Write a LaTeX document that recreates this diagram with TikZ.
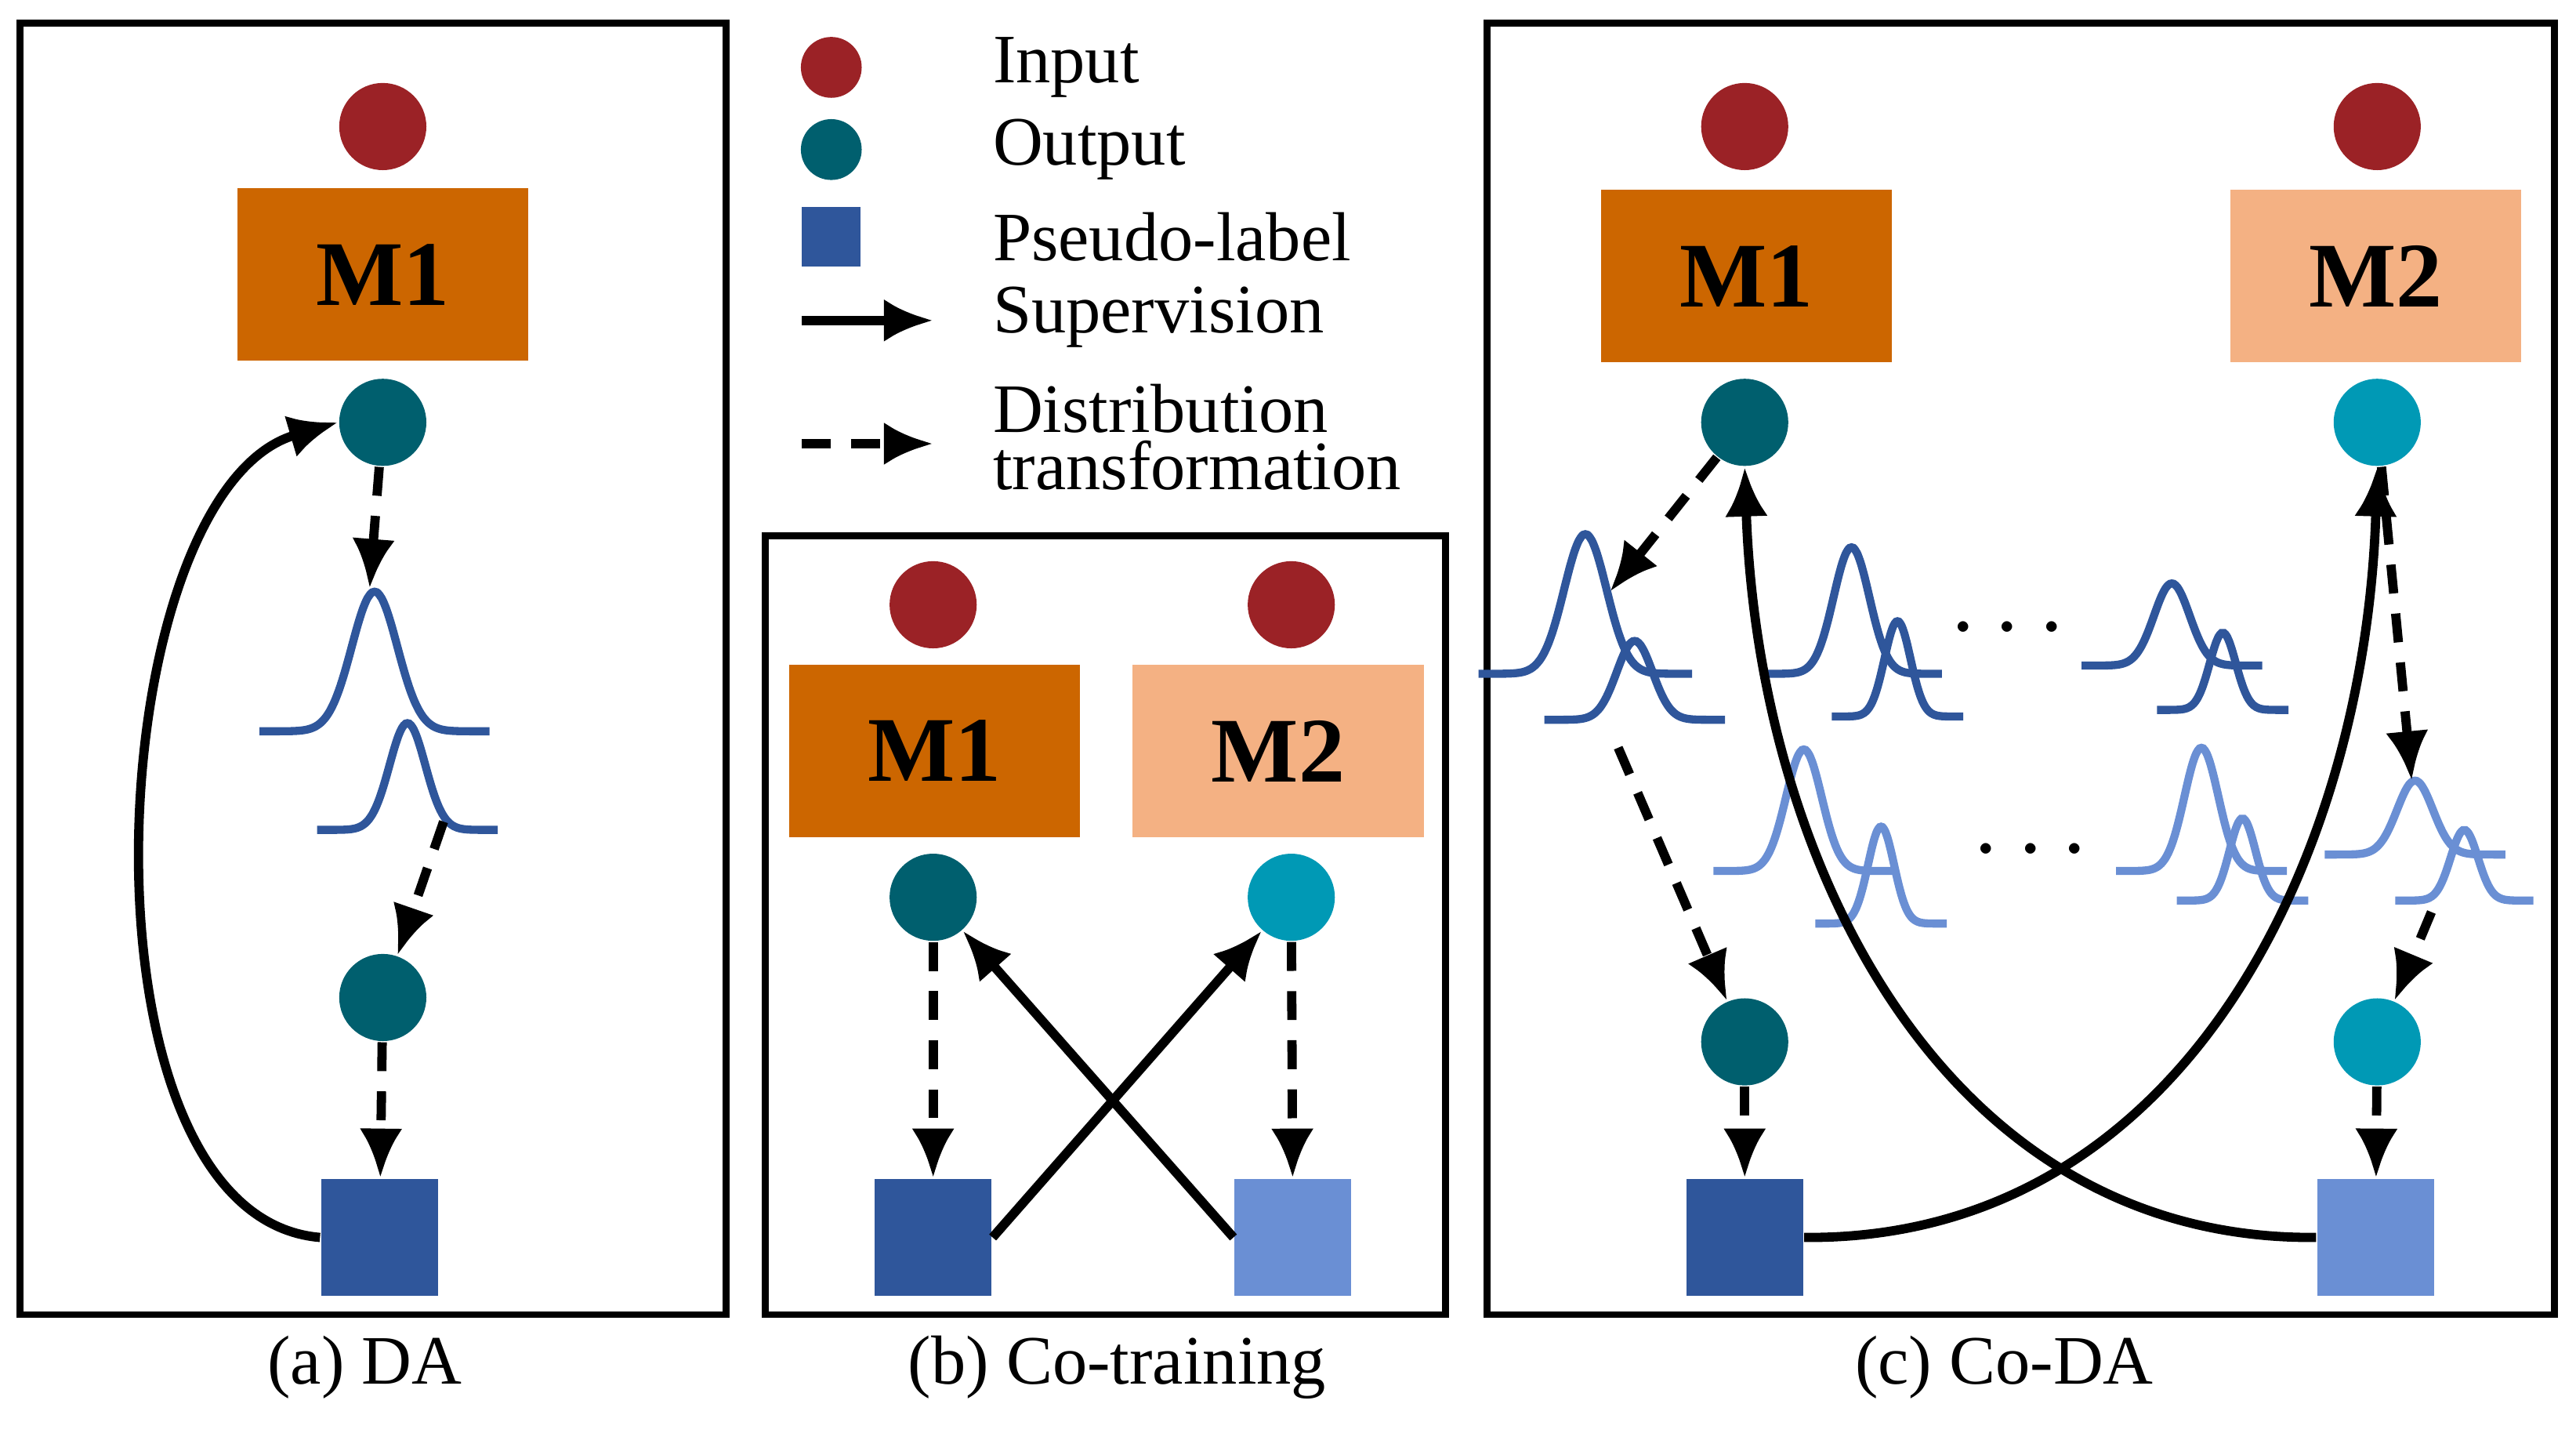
\documentclass[tikz,border=0pt]{standalone}
\usepackage{fontspec}
\setmainfont{Liberation Serif}
\usetikzlibrary{arrows.meta}
\definecolor{inred}{HTML}{9B2226}
\definecolor{outteal}{HTML}{005F6E}
\definecolor{outcyan}{HTML}{0099B5}
\definecolor{plblue}{HTML}{2F569B}
\definecolor{pllight}{HTML}{6A8FD4}
\definecolor{mone}{HTML}{CC6600}
\definecolor{mtwo}{HTML}{F4B183}
\tikzset{
  dot/.style={circle, minimum size=0.53cm, inner sep=0pt},
  inp/.style={dot, fill=inred},
  outa/.style={dot, fill=outteal},
  outb/.style={dot, fill=outcyan},
  sqa/.style={minimum size=0.71cm, inner sep=0pt, fill=plblue},
  sqb/.style={minimum size=0.71cm, inner sep=0pt, fill=pllight},
  model/.style={minimum width=1.77cm, minimum height=1.05cm, inner sep=0pt, font=\fontsize{16}{17}\selectfont\bfseries},
  panel/.style={draw, line width=1.2pt},
  sup/.style={-{Latex[length=3mm,width=2.6mm]}, line width=1.6pt},
  dist/.style={sup, dash pattern=on 5pt off 3.5pt},
  txt/.style={font=\fontsize{12}{12}\selectfont}
}
% gaussian bump: colour, centre x, peak y, base y, half width
\newcommand\bump[5]{\draw[#1, line width=1.4pt] plot[domain=-#5:#5, samples=50, smooth]
  ({#2+\x},{#4-(#4-#3)*exp(-(\x/(#5*0.28))^2)});}
\begin{document}
\begin{tikzpicture}[x=0.01cm, y=-0.01cm]
\useasboundingbox (0,0) rectangle (1568,872);
% (a) DA
\draw[panel] (12,14) rectangle (442,800);
\node[inp] (ain) at (233,77) {};
\node[model, fill=mone] (am) at (233,167) {M1};
\node[outa] (aout) at (233,257) {};
\bump{plblue}{228}{360}{445}{70}
\bump{plblue}{248}{440}{505}{55}
\coordinate (ag1) at (225,358);
\coordinate (ag2) at (270,500);
\node[outa] (aout2) at (233,607) {};
\node[sqa] (asq) at (231,753) {};
\draw[dist] (aout) -- (ag1);
\draw[dist] (ag2) -- (aout2);
\draw[dist] (aout2) -- (asq);
\draw[sup] (asq.west) .. controls (40,740) and (60,300) .. (aout.west);
\node[txt] (acap) at (222,832) {(a) DA};
% legend
\node[inp, minimum size=0.37cm] (lin) at (506,41) {};
\node[outa, minimum size=0.37cm] (lout) at (506,91) {};
\node[sqa, minimum size=0.36cm] (lsq) at (506,144) {};
\coordinate (ls1) at (488,195); \coordinate (ls2) at (568,195);
\coordinate (ld1) at (488,270); \coordinate (ld2) at (568,270);
\draw[sup] (ls1) -- (ls2);
\draw[dist] (ld1) -- (ld2);
\node[txt, anchor=west] (tin) at (592,41) {Input};
\node[txt, anchor=west] (tout) at (592,91) {Output};
\node[txt, anchor=west] (tpl) at (592,144) {Pseudo-label};
\node[txt, anchor=west] (tsup) at (592,193) {Supervision};
\node[txt, anchor=west, align=left] (tdist) at (592,266) {Distribution\\[-2pt]transformation};
% (b) Co-training
\draw[panel] (466,326) rectangle (880,800);
\node[inp] (bin1) at (568,368) {};
\node[inp] (bin2) at (786,368) {};
\node[model, fill=mone] (bm1) at (569,457) {M1};
\node[model, fill=mtwo] (bm2) at (778,457) {M2};
\node[outa] (bout1) at (568,546) {};
\node[outb] (bout2) at (786,546) {};
\node[sqa] (bsq1) at (568,753) {};
\node[sqb] (bsq2) at (787,753) {};
\draw[dist] (bout1) -- (bsq1);
\draw[dist] (bout2) -- (bsq2);
\draw[sup] (bsq1.east) -- (bout2);
\draw[sup] (bsq2.west) -- (bout1);
\node[txt] (bcap) at (680,832) {(b) Co-training};
% (c) Co-DA
\draw[panel] (905,14) rectangle (1555,800);
\node[inp] (cin1) at (1062,77) {};
\node[inp] (cin2) at (1447,77) {};
\node[model, fill=mone] (cm1) at (1063,168) {M1};
\node[model, fill=mtwo] (cm2) at (1446,168) {M2};
\node[outa] (cout1) at (1062,257) {};
\node[outb] (cout2) at (1447,257) {};
\bump{plblue}{965}{325}{410}{65}
\bump{plblue}{995}{390}{438}{55}
\bump{plblue}{1127}{333}{410}{55}
\bump{plblue}{1155}{378}{436}{40}
\bump{plblue}{1322}{355}{405}{55}
\bump{plblue}{1353}{385}{432}{40}
\bump{pllight}{1098}{456}{530}{55}
\bump{pllight}{1145}{503}{562}{40}
\bump{pllight}{1340}{455}{530}{52}
\bump{pllight}{1365}{498}{548}{40}
\bump{pllight}{1470}{475}{520}{55}
\bump{pllight}{1500}{505}{548}{42}
\node[font=\fontsize{16}{16}\selectfont\bfseries] (cdots1) at (1222,383) {$\cdots$};
\node[font=\fontsize{16}{16}\selectfont\bfseries] (cdots2) at (1236,518) {$\cdots$};
\coordinate (cg1) at (980,360);
\coordinate (cg2) at (985,455);
\coordinate (cg3) at (1468,475);
\coordinate (cg4) at (1480,555);
\node[outa] (cout3) at (1062,634) {};
\node[outb] (cout4) at (1447,634) {};
\node[sqa] (csq1) at (1062,753) {};
\node[sqb] (csq2) at (1446,753) {};
\draw[dist] (cout1) -- (cg1);
\draw[dist] (cg2) -- (cout3);
\draw[dist] (cout2) -- (cg3);
\draw[dist] (cg4) -- (cout4);
\draw[dist] (cout3) -- (csq1);
\draw[dist] (cout4) -- (csq2);
\draw[sup] (csq1.east) .. controls (1330,755) and (1440,520) .. (cout2.south);
\draw[sup] (csq2.west) .. controls (1180,755) and (1070,520) .. (cout1.south);
\node[txt] (ccap) at (1220,832) {(c) Co-DA};
\end{tikzpicture}
\end{document}
